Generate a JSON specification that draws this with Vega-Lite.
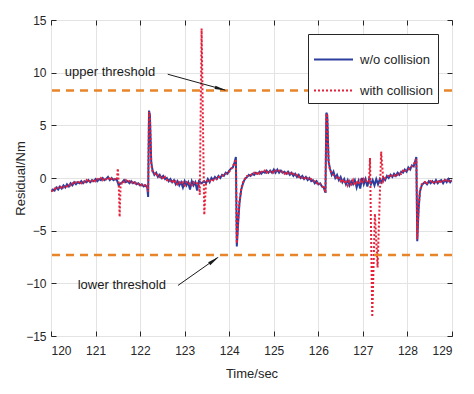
{
  "$schema": "https://vega.github.io/schema/vega-lite/v6.json",
  "width": 401,
  "height": 316,
  "autosize": {"type": "none"},
  "padding": {"left": 51, "top": 20, "right": 22, "bottom": 58},
  "background": "white",
  "config": {
    "font": "Liberation Sans",
    "view": {"stroke": "#262626", "strokeWidth": 1},
    "axis": {
      "domain": false,
      "tickColor": "#262626",
      "tickSize": -5,
      "labelColor": "#262626",
      "labelFontSize": 12,
      "titleColor": "#262626",
      "titleFontSize": 13,
      "titleFontWeight": "normal",
      "gridColor": "#e3e3e3",
      "gridWidth": 1
    }
  },
  "datasets": {
    "series": [
      {"t":120.00,"w/o collision":-1.3,"with collision":-1.2},
      {"t":120.04,"w/o collision":-1.1,"with collision":-1.2},
      {"t":120.08,"w/o collision":-1.2,"with collision":-1.0},
      {"t":120.12,"w/o collision":-0.9,"with collision":-1.1},
      {"t":120.16,"w/o collision":-1.1,"with collision":-0.9},
      {"t":120.20,"w/o collision":-0.8,"with collision":-1.0},
      {"t":120.24,"w/o collision":-1.0,"with collision":-0.8},
      {"t":120.28,"w/o collision":-0.7,"with collision":-0.9},
      {"t":120.32,"w/o collision":-0.9,"with collision":-0.7},
      {"t":120.36,"w/o collision":-0.6,"with collision":-0.8},
      {"t":120.40,"w/o collision":-0.8,"with collision":-0.6},
      {"t":120.44,"w/o collision":-0.5,"with collision":-0.7},
      {"t":120.48,"w/o collision":-0.7,"with collision":-0.5},
      {"t":120.52,"w/o collision":-0.4,"with collision":-0.6},
      {"t":120.56,"w/o collision":-0.6,"with collision":-0.4},
      {"t":120.60,"w/o collision":-0.4,"with collision":-0.5},
      {"t":120.64,"w/o collision":-0.5,"with collision":-0.3},
      {"t":120.68,"w/o collision":-0.3,"with collision":-0.5},
      {"t":120.72,"w/o collision":-0.5,"with collision":-0.3},
      {"t":120.76,"w/o collision":-0.3,"with collision":-0.4},
      {"t":120.80,"w/o collision":-0.4,"with collision":-0.2},
      {"t":120.84,"w/o collision":-0.2,"with collision":-0.4},
      {"t":120.88,"w/o collision":-0.4,"with collision":-0.2},
      {"t":120.92,"w/o collision":-0.2,"with collision":-0.3},
      {"t":120.96,"w/o collision":-0.3,"with collision":-0.1},
      {"t":121.00,"w/o collision":-0.1,"with collision":-0.3},
      {"t":121.04,"w/o collision":-0.3,"with collision":-0.1},
      {"t":121.08,"w/o collision":-0.1,"with collision":-0.2},
      {"t":121.12,"w/o collision":-0.2,"with collision":0.0},
      {"t":121.16,"w/o collision":0.0,"with collision":-0.2},
      {"t":121.20,"w/o collision":-0.2,"with collision":0.0},
      {"t":121.24,"w/o collision":-0.1,"with collision":-0.1},
      {"t":121.28,"w/o collision":0.1,"with collision":-0.2},
      {"t":121.32,"w/o collision":-0.2,"with collision":0.1},
      {"t":121.36,"w/o collision":0.0,"with collision":-0.1},
      {"t":121.40,"w/o collision":-0.2,"with collision":0.0},
      {"t":121.44,"w/o collision":-0.1,"with collision":-0.2},
      {"t":121.48,"w/o collision":-0.2,"with collision":-0.1},
      {"t":121.50,"w/o collision":null,"with collision":0.9},
      {"t":121.52,"w/o collision":-0.7,"with collision":-0.5},
      {"t":121.54,"w/o collision":null,"with collision":-3.7},
      {"t":121.56,"w/o collision":-0.5,"with collision":-0.9},
      {"t":121.60,"w/o collision":-0.4,"with collision":-0.3},
      {"t":121.64,"w/o collision":-0.2,"with collision":-0.4},
      {"t":121.68,"w/o collision":-0.4,"with collision":-0.2},
      {"t":121.72,"w/o collision":-0.3,"with collision":-0.4},
      {"t":121.76,"w/o collision":-0.5,"with collision":-0.3},
      {"t":121.80,"w/o collision":-0.3,"with collision":-0.5},
      {"t":121.84,"w/o collision":-0.5,"with collision":-0.4},
      {"t":121.88,"w/o collision":-0.4,"with collision":-0.5},
      {"t":121.92,"w/o collision":-0.6,"with collision":-0.4},
      {"t":121.96,"w/o collision":-0.5,"with collision":-0.6},
      {"t":122.00,"w/o collision":-0.7,"with collision":-0.5},
      {"t":122.04,"w/o collision":-0.6,"with collision":-0.7},
      {"t":122.08,"w/o collision":-0.8,"with collision":-0.6},
      {"t":122.12,"w/o collision":-0.7,"with collision":-0.8},
      {"t":122.16,"w/o collision":-0.9,"with collision":-0.8},
      {"t":122.18,"w/o collision":-1.8,"with collision":-1.3},
      {"t":122.20,"w/o collision":6.4,"with collision":6.3},
      {"t":122.22,"w/o collision":6.0,"with collision":5.8},
      {"t":122.25,"w/o collision":1.5,"with collision":1.3},
      {"t":122.28,"w/o collision":0.7,"with collision":0.6},
      {"t":122.32,"w/o collision":0.3,"with collision":0.5},
      {"t":122.36,"w/o collision":0.5,"with collision":0.2},
      {"t":122.40,"w/o collision":0.1,"with collision":0.3},
      {"t":122.44,"w/o collision":0.3,"with collision":0.1},
      {"t":122.48,"w/o collision":0.0,"with collision":0.2},
      {"t":122.52,"w/o collision":0.2,"with collision":-0.1},
      {"t":122.56,"w/o collision":-0.1,"with collision":0.1},
      {"t":122.60,"w/o collision":0.0,"with collision":-0.2},
      {"t":122.64,"w/o collision":-0.3,"with collision":-0.1},
      {"t":122.68,"w/o collision":-0.1,"with collision":-0.3},
      {"t":122.72,"w/o collision":-0.4,"with collision":-0.2},
      {"t":122.76,"w/o collision":-0.2,"with collision":-0.5},
      {"t":122.80,"w/o collision":-0.6,"with collision":-0.3},
      {"t":122.84,"w/o collision":-0.3,"with collision":-0.6},
      {"t":122.88,"w/o collision":-0.7,"with collision":-0.4},
      {"t":122.92,"w/o collision":-0.4,"with collision":-0.6},
      {"t":122.96,"w/o collision":-0.9,"with collision":-0.4},
      {"t":123.00,"w/o collision":-0.3,"with collision":-0.7},
      {"t":123.04,"w/o collision":-0.7,"with collision":-0.4},
      {"t":123.08,"w/o collision":-0.4,"with collision":-0.6},
      {"t":123.12,"w/o collision":-1.1,"with collision":-0.5},
      {"t":123.16,"w/o collision":-0.3,"with collision":-0.7},
      {"t":123.20,"w/o collision":-0.7,"with collision":-0.4},
      {"t":123.24,"w/o collision":-0.4,"with collision":-0.6},
      {"t":123.28,"w/o collision":-1.2,"with collision":-0.5},
      {"t":123.32,"w/o collision":-0.3,"with collision":-0.6},
      {"t":123.34,"w/o collision":null,"with collision":-1.6},
      {"t":123.38,"w/o collision":-0.5,"with collision":14.2},
      {"t":123.44,"w/o collision":-0.3,"with collision":-3.5},
      {"t":123.48,"w/o collision":-0.5,"with collision":-0.4},
      {"t":123.52,"w/o collision":-0.1,"with collision":-0.2},
      {"t":123.56,"w/o collision":-0.4,"with collision":-0.3},
      {"t":123.60,"w/o collision":0.0,"with collision":-0.1},
      {"t":123.64,"w/o collision":-0.2,"with collision":-0.2},
      {"t":123.68,"w/o collision":0.1,"with collision":0.0},
      {"t":123.72,"w/o collision":-0.1,"with collision":-0.1},
      {"t":123.76,"w/o collision":0.2,"with collision":0.1},
      {"t":123.80,"w/o collision":0.0,"with collision":0.1},
      {"t":123.84,"w/o collision":0.3,"with collision":0.2},
      {"t":123.88,"w/o collision":0.2,"with collision":0.3},
      {"t":123.92,"w/o collision":0.5,"with collision":0.4},
      {"t":123.96,"w/o collision":0.4,"with collision":0.5},
      {"t":124.00,"w/o collision":0.7,"with collision":0.6},
      {"t":124.04,"w/o collision":0.9,"with collision":0.8},
      {"t":124.08,"w/o collision":1.0,"with collision":1.1},
      {"t":124.12,"w/o collision":1.5,"with collision":1.4},
      {"t":124.15,"w/o collision":2.0,"with collision":1.8},
      {"t":124.17,"w/o collision":-6.5,"with collision":-6.2},
      {"t":124.20,"w/o collision":-4.3,"with collision":-4.0},
      {"t":124.23,"w/o collision":-2.4,"with collision":-2.2},
      {"t":124.27,"w/o collision":-1.1,"with collision":-1.0},
      {"t":124.31,"w/o collision":-0.5,"with collision":-0.4},
      {"t":124.35,"w/o collision":-0.1,"with collision":-0.1},
      {"t":124.40,"w/o collision":0.1,"with collision":0.2},
      {"t":124.44,"w/o collision":0.3,"with collision":0.2},
      {"t":124.48,"w/o collision":0.2,"with collision":0.3},
      {"t":124.52,"w/o collision":0.4,"with collision":0.3},
      {"t":124.56,"w/o collision":0.3,"with collision":0.5},
      {"t":124.60,"w/o collision":0.5,"with collision":0.3},
      {"t":124.64,"w/o collision":0.4,"with collision":0.6},
      {"t":124.68,"w/o collision":0.6,"with collision":0.4},
      {"t":124.72,"w/o collision":0.4,"with collision":0.6},
      {"t":124.76,"w/o collision":0.6,"with collision":0.5},
      {"t":124.80,"w/o collision":0.5,"with collision":0.7},
      {"t":124.84,"w/o collision":0.7,"with collision":0.5},
      {"t":124.88,"w/o collision":0.5,"with collision":0.7},
      {"t":124.92,"w/o collision":0.7,"with collision":0.6},
      {"t":124.96,"w/o collision":0.5,"with collision":0.7},
      {"t":125.00,"w/o collision":0.8,"with collision":0.5},
      {"t":125.04,"w/o collision":0.5,"with collision":0.7},
      {"t":125.08,"w/o collision":0.8,"with collision":0.6},
      {"t":125.12,"w/o collision":0.5,"with collision":0.7},
      {"t":125.16,"w/o collision":0.7,"with collision":0.5},
      {"t":125.20,"w/o collision":0.5,"with collision":0.6},
      {"t":125.24,"w/o collision":0.6,"with collision":0.4},
      {"t":125.28,"w/o collision":0.4,"with collision":0.6},
      {"t":125.32,"w/o collision":0.6,"with collision":0.4},
      {"t":125.36,"w/o collision":0.3,"with collision":0.5},
      {"t":125.40,"w/o collision":0.5,"with collision":0.3},
      {"t":125.44,"w/o collision":0.2,"with collision":0.4},
      {"t":125.48,"w/o collision":0.4,"with collision":0.2},
      {"t":125.52,"w/o collision":0.1,"with collision":0.3},
      {"t":125.56,"w/o collision":0.3,"with collision":0.1},
      {"t":125.60,"w/o collision":0.0,"with collision":0.2},
      {"t":125.64,"w/o collision":0.2,"with collision":0.0},
      {"t":125.68,"w/o collision":-0.1,"with collision":0.1},
      {"t":125.72,"w/o collision":0.1,"with collision":-0.1},
      {"t":125.76,"w/o collision":-0.2,"with collision":0.0},
      {"t":125.80,"w/o collision":0.0,"with collision":-0.2},
      {"t":125.84,"w/o collision":-0.3,"with collision":-0.1},
      {"t":125.88,"w/o collision":-0.2,"with collision":-0.3},
      {"t":125.92,"w/o collision":-0.5,"with collision":-0.3},
      {"t":125.96,"w/o collision":-0.3,"with collision":-0.5},
      {"t":126.00,"w/o collision":-0.6,"with collision":-0.4},
      {"t":126.04,"w/o collision":-0.5,"with collision":-0.6},
      {"t":126.08,"w/o collision":-0.8,"with collision":-0.7},
      {"t":126.12,"w/o collision":-0.9,"with collision":-1.0},
      {"t":126.16,"w/o collision":-1.4,"with collision":-1.2},
      {"t":126.18,"w/o collision":6.2,"with collision":6.1},
      {"t":126.20,"w/o collision":6.0,"with collision":5.8},
      {"t":126.23,"w/o collision":1.6,"with collision":1.5},
      {"t":126.26,"w/o collision":0.9,"with collision":0.8},
      {"t":126.30,"w/o collision":0.3,"with collision":0.5},
      {"t":126.34,"w/o collision":0.6,"with collision":0.3},
      {"t":126.38,"w/o collision":0.0,"with collision":0.2},
      {"t":126.42,"w/o collision":0.3,"with collision":0.0},
      {"t":126.46,"w/o collision":-0.2,"with collision":0.1},
      {"t":126.50,"w/o collision":0.1,"with collision":-0.3},
      {"t":126.54,"w/o collision":-0.4,"with collision":-0.1},
      {"t":126.58,"w/o collision":-0.1,"with collision":-0.5},
      {"t":126.62,"w/o collision":-0.6,"with collision":-0.2},
      {"t":126.66,"w/o collision":-0.2,"with collision":-0.7},
      {"t":126.70,"w/o collision":-0.7,"with collision":-0.3},
      {"t":126.74,"w/o collision":-0.3,"with collision":-0.6},
      {"t":126.78,"w/o collision":-0.6,"with collision":-0.2},
      {"t":126.82,"w/o collision":-0.2,"with collision":-0.7},
      {"t":126.86,"w/o collision":-0.9,"with collision":-0.3},
      {"t":126.90,"w/o collision":-0.3,"with collision":-0.6},
      {"t":126.94,"w/o collision":-1.0,"with collision":-0.2},
      {"t":126.98,"w/o collision":0.0,"with collision":-0.5},
      {"t":127.02,"w/o collision":-0.6,"with collision":-0.1},
      {"t":127.06,"w/o collision":-0.1,"with collision":-0.4},
      {"t":127.10,"w/o collision":-0.8,"with collision":-0.2},
      {"t":127.14,"w/o collision":-0.1,"with collision":-0.3},
      {"t":127.16,"w/o collision":null,"with collision":1.9},
      {"t":127.18,"w/o collision":-0.6,"with collision":null},
      {"t":127.21,"w/o collision":null,"with collision":-13.2},
      {"t":127.22,"w/o collision":-0.2,"with collision":null},
      {"t":127.26,"w/o collision":-0.7,"with collision":null},
      {"t":127.27,"w/o collision":null,"with collision":-3.4},
      {"t":127.30,"w/o collision":-0.1,"with collision":null},
      {"t":127.33,"w/o collision":null,"with collision":-8.5},
      {"t":127.34,"w/o collision":-0.6,"with collision":null},
      {"t":127.38,"w/o collision":-0.1,"with collision":null},
      {"t":127.41,"w/o collision":null,"with collision":2.5},
      {"t":127.42,"w/o collision":-0.4,"with collision":null},
      {"t":127.46,"w/o collision":0.0,"with collision":-0.3},
      {"t":127.50,"w/o collision":-0.2,"with collision":0.0},
      {"t":127.54,"w/o collision":0.2,"with collision":0.1},
      {"t":127.58,"w/o collision":0.0,"with collision":0.2},
      {"t":127.62,"w/o collision":0.3,"with collision":0.1},
      {"t":127.66,"w/o collision":0.1,"with collision":0.3},
      {"t":127.70,"w/o collision":0.4,"with collision":0.2},
      {"t":127.74,"w/o collision":0.2,"with collision":0.4},
      {"t":127.78,"w/o collision":0.5,"with collision":0.3},
      {"t":127.82,"w/o collision":0.3,"with collision":0.5},
      {"t":127.86,"w/o collision":0.6,"with collision":0.4},
      {"t":127.90,"w/o collision":0.5,"with collision":0.7},
      {"t":127.94,"w/o collision":0.8,"with collision":0.6},
      {"t":127.98,"w/o collision":0.6,"with collision":0.8},
      {"t":128.02,"w/o collision":1.0,"with collision":0.8},
      {"t":128.06,"w/o collision":0.8,"with collision":1.0},
      {"t":128.10,"w/o collision":1.2,"with collision":1.1},
      {"t":128.14,"w/o collision":1.1,"with collision":1.3},
      {"t":128.18,"w/o collision":1.7,"with collision":1.6},
      {"t":128.20,"w/o collision":2.0,"with collision":1.8},
      {"t":128.22,"w/o collision":-6.0,"with collision":-5.8},
      {"t":128.25,"w/o collision":-3.0,"with collision":-2.8},
      {"t":128.28,"w/o collision":-1.3,"with collision":-1.2},
      {"t":128.32,"w/o collision":-0.7,"with collision":-0.6},
      {"t":128.36,"w/o collision":-0.5,"with collision":-0.6},
      {"t":128.40,"w/o collision":-0.4,"with collision":-0.3},
      {"t":128.44,"w/o collision":-0.6,"with collision":-0.5},
      {"t":128.48,"w/o collision":-0.3,"with collision":-0.4},
      {"t":128.52,"w/o collision":-0.5,"with collision":-0.3},
      {"t":128.56,"w/o collision":-0.3,"with collision":-0.5},
      {"t":128.60,"w/o collision":-0.5,"with collision":-0.3},
      {"t":128.64,"w/o collision":-0.2,"with collision":-0.4},
      {"t":128.68,"w/o collision":-0.5,"with collision":-0.2},
      {"t":128.72,"w/o collision":-0.3,"with collision":-0.5},
      {"t":128.76,"w/o collision":-0.2,"with collision":-0.3},
      {"t":128.80,"w/o collision":-0.5,"with collision":-0.2},
      {"t":128.84,"w/o collision":-0.2,"with collision":-0.4},
      {"t":128.88,"w/o collision":-0.4,"with collision":-0.1},
      {"t":128.92,"w/o collision":-0.1,"with collision":-0.3},
      {"t":128.96,"w/o collision":-0.4,"with collision":-0.2},
      {"t":129.00,"w/o collision":-0.2,"with collision":-0.3}
    ],
    "thresholds": [{"y": 8.3}, {"y": -7.3}],
    "labels": [
      {"x": 120.31, "y": 10.05, "label": "upper threshold"},
      {"x": 120.60, "y": -10.2, "label": "lower threshold"}
    ],
    "arrows": [
      {"x": 122.62, "y": 9.85, "x2": 123.9, "y2": 8.36},
      {"x": 122.85, "y": -10.2, "x2": 123.74, "y2": -7.55}
    ],
    "tipUp": [{"x": 123.94, "y": 8.3}],
    "tipLow": [{"x": 123.77, "y": -7.48}]
  },
  "layer": [
    {
      "data": {"name": "series"},
      "transform": [
        {"fold": ["w/o collision", "with collision"], "as": ["s", "v"]},
        {"filter": "isValid(datum.v)"}
      ],
      "mark": {"type": "line", "strokeWidth": 2, "clip": true},
      "encoding": {
        "x": {"field": "t", "type": "quantitative",
              "scale": {"domain": [120, 129], "nice": false},
              "axis": {"values": [120,121,122,123,124,125,126,127,128,129], "title": "Time/sec", "labelPadding": 14, "titlePadding": 11, "grid": true}},
        "y": {"field": "v", "type": "quantitative",
              "scale": {"domain": [-15, 15], "nice": false},
              "axis": {"values": [-15,-10,-5,0,5,10,15], "title": "Residual/Nm", "labelPadding": 10, "titlePadding": -2, "grid": true}},
        "color": {"field": "s", "type": "nominal",
                  "scale": {"domain": ["w/o collision", "with collision"], "range": ["#2c3e9e", "#e8213a"]},
                  "legend": {"title": null, "orient": "top-right", "offset": 14,
                             "strokeColor": "#262626", "fillColor": "white", "padding": 5,
                             "labelFontSize": 13, "labelColor": "#262626", "labelOffset": 6,
                             "symbolType": "stroke", "symbolSize": 1521, "symbolStrokeWidth": 2, "rowPadding": 3, "cornerRadius": 0}},
        "strokeDash": {"field": "s", "type": "nominal",
                       "scale": {"domain": ["w/o collision", "with collision"], "range": [[1, 0], [2, 2]]},
                       "legend": {"title": null}}
      }
    },
    {
      "data": {"name": "thresholds"},
      "mark": {"type": "rule", "color": "#e8842a", "strokeWidth": 2.5, "strokeDash": [8, 6]},
      "encoding": {
        "y": {"field": "y", "type": "quantitative",
              "axis": {"orient": "right", "labels": false, "title": null, "grid": false, "values": [-15,-10,-5,0,5,10,15]}}
      }
    },
    {
      "data": {"name": "thresholds"},
      "mark": {"type": "rule", "opacity": 0},
      "encoding": {
        "x": {"datum": 120, "type": "quantitative",
              "axis": {"orient": "top", "labels": false, "title": null, "grid": false, "values": [120,121,122,123,124,125,126,127,128,129]}}
      }
    },
    {
      "data": {"name": "labels"},
      "mark": {"type": "text", "align": "left", "baseline": "middle", "fontSize": 13, "color": "#1a1a1a"},
      "encoding": {
        "x": {"field": "x", "type": "quantitative", "axis": null},
        "y": {"field": "y", "type": "quantitative", "axis": null},
        "text": {"field": "label"}
      }
    },
    {
      "data": {"name": "arrows"},
      "mark": {"type": "rule", "color": "#1a1a1a", "strokeWidth": 1},
      "encoding": {
        "x": {"field": "x", "type": "quantitative", "axis": null},
        "y": {"field": "y", "type": "quantitative", "axis": null},
        "x2": {"field": "x2"},
        "y2": {"field": "y2"}
      }
    },
    {
      "data": {"name": "tipUp"},
      "mark": {"type": "point", "shape": "M0,0L-0.3,2L0.3,2Z", "filled": true, "color": "#1a1a1a", "size": 144, "opacity": 1, "angle": 105.5},
      "encoding": {
        "x": {"field": "x", "type": "quantitative", "axis": null},
        "y": {"field": "y", "type": "quantitative", "axis": null}
      }
    },
    {
      "data": {"name": "tipLow"},
      "mark": {"type": "point", "shape": "M0,0L-0.3,2L0.3,2Z", "filled": true, "color": "#1a1a1a", "size": 144, "opacity": 1, "angle": 54.7},
      "encoding": {
        "x": {"field": "x", "type": "quantitative", "axis": null},
        "y": {"field": "y", "type": "quantitative", "axis": null}
      }
    }
  ],
  "resolve": {"axis": {"x": "independent", "y": "independent"}}
}
